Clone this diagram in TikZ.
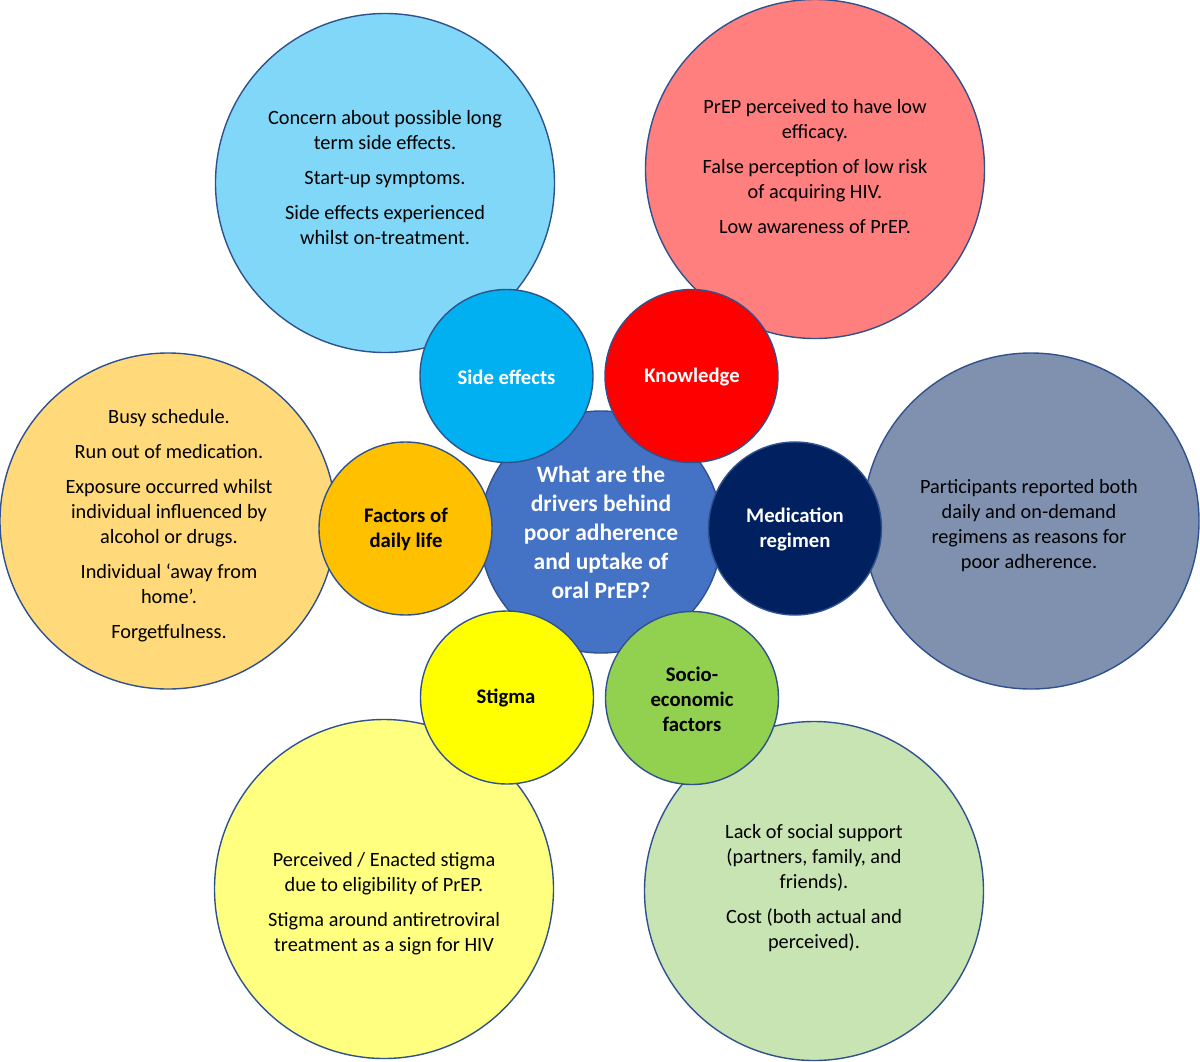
\documentclass[tikz,border=0pt]{standalone}
\usepackage{fontspec}
\setmainfont{Carlito}
\definecolor{bord}{HTML}{2F528F}
\definecolor{cCenter}{HTML}{4472C4}
\definecolor{cSide}{HTML}{00B0F0}
\definecolor{cKnow}{HTML}{FF0000}
\definecolor{cMed}{HTML}{002060}
\definecolor{cSocio}{HTML}{92D050}
\definecolor{cStig}{HTML}{FFFF00}
\definecolor{cFact}{HTML}{FFC000}
\definecolor{bSide}{HTML}{80D7F7}
\definecolor{bKnow}{HTML}{FF7F7F}
\definecolor{bMed}{HTML}{8091B0}
\definecolor{bSocio}{HTML}{C7E4B2}
\definecolor{bStig}{HTML}{FFFF80}
\definecolor{bFact}{HTML}{FFD97A}
\begin{document}
\begin{tikzpicture}[x=1pt,y=-1pt,
  bigc/.style={circle, draw=bord, line width=1.4pt, minimum size=339pt, inner sep=0pt},
  smallc/.style={circle, draw=bord, line width=1.4pt, minimum size=173pt, inner sep=0pt},
  centc/.style={circle, draw=bord, line width=1.4pt, minimum size=242pt, inner sep=0pt, fill=cCenter},
  body/.style={align=center, text=black, font=\fontsize{20.3}{25}\selectfont, inner sep=0pt},
  lab/.style={align=center, font=\bfseries\fontsize{20.7}{25}\selectfont, inner sep=0pt},
  ctext/.style={align=center, text=white, font=\bfseries\fontsize{23.5}{29}\selectfont, inner sep=0pt}]
\useasboundingbox[fill=white] (0,0) rectangle (1200,1061);
% big outer circles
\node[bigc, fill=bSide]  (bside)  at (385,183) {};
\node[bigc, fill=bKnow]  (bknow)  at (815,169) {};
\node[bigc, fill=bMed, minimum size=336pt]   (bmed)   at (1031,521) {};
\node[bigc, fill=bSocio] (bsocio) at (814,891) {};
\node[bigc, fill=bStig]  (bstig)  at (384,889) {};
\node[bigc, fill=bFact, minimum size=336pt]  (bfact)  at (168,521) {};
% centre
\node[centc] (cent) at (601,532) {};
% small circles
\node[smallc, fill=cSide]  (sside)  at (506.5,376) {};
\node[smallc, fill=cKnow]  (sknow)  at (691.5,376) {};
\node[smallc, fill=cMed]   (smed)   at (795,528.5) {};
\node[smallc, fill=cSocio] (ssocio) at (692,698) {};
\node[smallc, fill=cStig]  (sstig)  at (507,697.5) {};
\node[smallc, fill=cFact]  (sfact)  at (405.5,528.5) {};
% labels
\node[ctext] (tcent) at (601,532) {What are the\\drivers behind\\poor adherence\\and uptake of\\oral PrEP?};
\node[lab, text=white] (tside) at (506.5,377) {Side effects};
\node[lab, text=white] (tknow) at (692,377) {Knowledge};
\node[lab, text=white] (tmed) at (795,529.5) {Medication\\regimen};
\node[lab, text=black] (tsocio) at (692,699) {Socio-\\economic\\factors};
\node[lab, text=black] (tstig) at (506,698) {Stigma};
\node[lab, text=black] (tfact) at (406,529.5) {Factors of\\daily life};
% body texts
\node[body] (xside) at (385,177.5) {Concern about possible long\\term side effects.\\[10pt]Start-up symptoms.\\[10pt]Side effects experienced\\whilst on-treatment.};
\node[body] (xknow) at (815,166.5) {PrEP perceived to have low\\efficacy.\\[10pt]False perception of low risk\\of acquiring HIV.\\[10pt]Low awareness of PrEP.};
\node[body] (xfact) at (169,526) {Busy schedule.\\[10pt]Run out of medication.\\[10pt]Exposure occurred whilst\\individual influenced by\\alcohol or drugs.\\[10pt]Individual `away from\\home'.\\[10pt]Forgetfulness.};
\node[body] (xmed) at (1029,525.5) {Participants reported both\\daily and on-demand\\regimens as reasons for\\poor adherence.};
\node[body] (xstig) at (384,904) {Perceived / Enacted stigma\\due to eligibility of PrEP.\\[10pt]Stigma around antiretroviral\\treatment as a sign for HIV};
\node[body] (xsocio) at (814,888.5) {Lack of social support\\(partners, family, and\\friends).\\[10pt]Cost (both actual and\\perceived).};
\end{tikzpicture}
\end{document}
